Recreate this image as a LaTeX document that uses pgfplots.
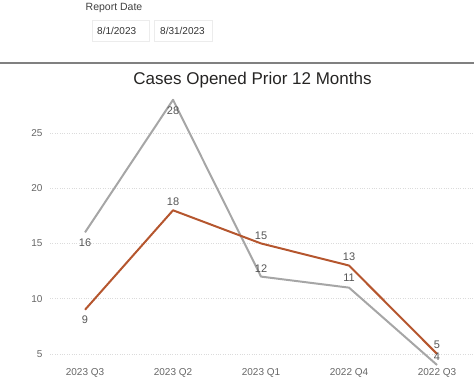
\documentclass[border=0pt]{standalone}
\usepackage{fontspec}
\setmainfont{Liberation Sans}
\usepackage{pgfplots}
\usepackage{pgfplotstable}
\pgfplotsset{compat=1.18}
\definecolor{lgray}{HTML}{A6A6A6}
\definecolor{lorange}{HTML}{B5562E}
\definecolor{ticktxt}{HTML}{666666}
\definecolor{lbltxt}{HTML}{555555}
\definecolor{titletxt}{HTML}{252423}
\pgfplotstableread{
x y dy
0 16 -10
1 28 -11
2 12 8
3 11 10
4 4 8
}\graydata
\pgfplotstableread{
x y dy
0 9 -10
1 18 9
2 15 8
3 13 9
4 5 9
}\orangedata
\begin{document}
\begin{tikzpicture}
\path[use as bounding box] (0pt,0pt) rectangle (474pt,390pt);
% header
\node[text=black!75, font=\fontsize{10.5}{12}\selectfont] at (114pt,382pt) {Report Date};
\draw[draw=gray!15, fill=white] (92pt,370pt) rectangle (149pt,349pt);
\node[anchor=west, inner sep=0pt, text=black!80, font=\fontsize{10}{12}\selectfont] at (97pt,359.5pt) {8/1/2023};
\draw[draw=gray!15, fill=white] (154pt,370pt) rectangle (212pt,349pt);
\node[anchor=west, inner sep=0pt, text=black!80, font=\fontsize{10}{12}\selectfont] at (160pt,359.5pt) {8/31/2023};
\draw[color=black!50, line width=1.5pt] (0pt,327pt) -- (474pt,327pt);
\node[text=titletxt, font=\fontsize{17}{19}\selectfont] at (252.5pt,310pt) {Cases Opened Prior 12 Months};
\begin{axis}[
  at={(50pt,25pt)}, anchor=south west,
  scale only axis, width=424pt, height=276.25pt,
  xmin=-0.398, xmax=4.42, ymin=4, ymax=29,
  clip=false,
  axis line style={draw=none},
  tick style={draw=none},
  ytick={5,10,15,20,25},
  xtick={0,1,2,3,4},
  xticklabels={2023 Q3,2023 Q2,2023 Q1,2022 Q4,2022 Q3},
  ymajorgrids,
  grid style={dotted, color=gray!28, line width=0.8pt},
  /pgf/number format/assume math mode=true,
  ticklabel style={font=\fontsize{10}{11}\selectfont, text=ticktxt},
  yticklabel style={xshift=-4pt},
  nodes near coords,
  point meta=explicit,
]
\addplot[color=lgray, line width=2pt, line join=round, no markers,
  visualization depends on={\thisrow{dy} \as \dy},
  nodes near coords style={anchor=center, yshift=\dy pt, font=\fontsize{11}{12}\selectfont, text=lbltxt}]
  table[x=x, y=y, meta=y] {\graydata};
\addplot[color=lorange, line width=2pt, line join=round, no markers,
  visualization depends on={\thisrow{dy} \as \dy},
  nodes near coords style={anchor=center, yshift=\dy pt, font=\fontsize{11}{12}\selectfont, text=lbltxt}]
  table[x=x, y=y, meta=y] {\orangedata};
\end{axis}
\end{tikzpicture}
\end{document}
